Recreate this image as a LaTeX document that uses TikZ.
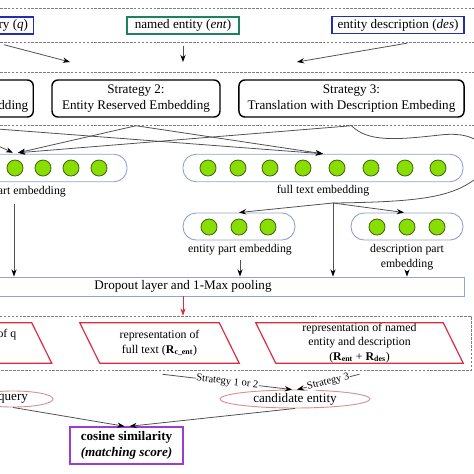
\documentclass[tikz,border=0pt]{standalone}
\usepackage{fontspec}
\setmainfont{Liberation Serif}
\usepackage{xcolor}
\usetikzlibrary{arrows.meta}
\usetikzlibrary{calc,shapes.geometric}
\definecolor{qblue}{RGB}{35,45,175}
\definecolor{entgreen}{RGB}{30,130,95}
\definecolor{embline}{RGB}{150,162,210}
\definecolor{dotgreen}{RGB}{135,222,0}
\definecolor{dotedge}{RGB}{65,95,10}
\definecolor{repred}{RGB}{215,45,65}
\definecolor{ellpink}{RGB}{215,145,150}
\definecolor{cospurple}{RGB}{155,60,210}
\definecolor{linegray}{RGB}{80,80,80}
\definecolor{dashgray}{RGB}{125,125,125}

\begin{document}
\begin{tikzpicture}[x=0.762pt,y=-0.762pt,
  inbox/.style={draw,line width=1pt,minimum height=13pt,inner xsep=4pt,inner ysep=1pt},
  stratbox/.style={draw,rounded corners=4.5pt,line width=1.1pt,minimum height=28.2pt,align=center,inner sep=1pt},
  embbox/.style={draw=embline,rounded corners=10pt,line width=0.7pt,minimum height=21pt},
  dot/.style={circle,draw=dotedge,fill=dotgreen,line width=0.6pt,minimum size=12.2pt,inner sep=0pt},
  emblabel/.style={font=\small,align=center,inner sep=1pt},
  arr/.style={draw=linegray,line width=0.6pt,-{Stealth[length=5.5pt,width=4pt,color=black]}},
  sepline/.style={draw=dashgray,dash pattern=on 2pt off 1pt,line width=0.5pt},
  reptext/.style={font=\small,align=center,minimum height=30.5pt,inner sep=0pt},
  rep/.style={draw=repred,line width=0.9pt},
  ell/.style={ellipse,draw=ellpink,line width=0.7pt,inner sep=0pt},
  slab/.style={sloped,fill=white,inner sep=0.5pt,font=\footnotesize}]
\fill [white] (0,0) rectangle (474,474);
\useasboundingbox (0,0) rectangle (474,474);
\clip (0,0) rectangle (474,474);
\draw [sepline] (0,8) -- (474,8);
\draw [sepline] (0,42) -- (474,42);
\draw [sepline] (0,72) -- (474,72);
\draw [sepline] (0,125) -- (474,125);
\node [inbox,draw=qblue,anchor=east] (v1) at (34,25.5) {query (\textit{q})};
\node [inbox,draw=entgreen,minimum width=85.3pt] (v2) at (183,25.5) {named entity (\textit{ent})};
\node [inbox,draw=qblue,minimum width=100.6pt] (v3) at (398,25) {entity description (\textit{des})};
\node [stratbox,anchor=east,minimum width=120.4pt] (v4) at (34,98.5) {Strategy 1:\\Entity Replaced Embedding};
\node [stratbox,minimum width=128pt] (v5) at (136,98.5) {Strategy 2:\\Entity Reserved Embedding};
\node [stratbox,minimum width=171.5pt] (v6) at (351.5,98.5) {Strategy 3:\\Translation with Description Embeding};
\coordinate (v7) at ($(v4.south)+(0,8)$);
\coordinate (v8) at ($(v5.south)+(0,8)$);
\coordinate (v9) at ($(v6.south)+(0,8)$);
\node [embbox,minimum width=172.2pt] (v10) at (14,168) {};
\node [embbox,minimum width=213.4pt] (v11) at (323,168) {};
\node [embbox,minimum width=85.3pt,minimum height=20.6pt] (v12) at (239,226.5) {};
\node [embbox,minimum width=85.3pt,minimum height=20.6pt] (v13) at (407,226.5) {};
\node [dot] (v33) at (15,168) {};
\node [dot] (v34) at (43,168) {};
\node [dot] (v35) at (71,168) {};
\node [dot] (v36) at (99,168) {};
\node [dot] (v37) at (208,168) {};
\node [dot] (v38) at (238,168) {};
\node [dot] (v39) at (270,168) {};
\node [dot] (v40) at (303,168) {};
\node [dot] (v41) at (337,168) {};
\node [dot] (v42) at (371,168) {};
\node [dot] (v43) at (405,168) {};
\node [dot] (v44) at (438,168) {};
\node [dot] (v45) at (209,227) {};
\node [dot] (v46) at (239,227) {};
\node [dot] (v47) at (268,227) {};
\node [dot] (v48) at (377,227) {};
\node [dot] (v49) at (407,227) {};
\node [dot] (v50) at (437,227) {};
\node [emblabel] (v14) at (14,192) {query part embedding};
\node [emblabel] (v15) at (323,191) {full text embedding};
\node [emblabel] (v16) at (240,250) {entity part embedding};
\node [emblabel] (v17) at (407,257) {description part\\embedding};
\coordinate (v18) at (333,203);
\node [draw=embline,line width=0.7pt,minimum width=428.2pt,minimum height=14.5pt,inner sep=0pt] (v19) at (183,286.5) {Dropout layer and 1-Max pooling};
\node [draw=dashgray,dash pattern=on 2pt off 1pt,line width=0.6pt,minimum width=438.9pt,minimum height=41.1pt,inner sep=0pt] (v20) at (183,343) {};
\node [reptext,minimum width=105.9pt] (v21) at (-28,343) {representation of q\\\strut};
\node [reptext,minimum width=105.9pt] (v22) at (159.5,343) {representation of\\full text (\textbf{R}\textsubscript{\textbf{c\_ent}})};
\node [reptext,minimum width=142.5pt] (v23) at (359.5,343) {representation of named\\entity and description\\(\textbf{R}\textsubscript{\textbf{ent}} + \textbf{R}\textsubscript{\textbf{des}})};
\draw [rep] ($(v21.north west)+(-10,0)$) -- ($(v21.north east)+(-10,0)$) -- ($(v21.south east)+(10,0)$) -- ($(v21.south west)+(10,0)$) -- cycle;
\draw [rep] ($(v22.north west)+(-10,0)$) -- ($(v22.north east)+(-10,0)$) -- ($(v22.south east)+(10,0)$) -- ($(v22.south west)+(10,0)$) -- cycle;
\draw [rep] ($(v23.north west)+(-10,0)$) -- ($(v23.north east)+(-10,0)$) -- ($(v23.south east)+(10,0)$) -- ($(v23.south west)+(10,0)$) -- cycle;
\node [ell,minimum width=61pt,minimum height=12.2pt] (v24) at (13,399) {query};
\node [ell,minimum width=114.3pt,minimum height=13.7pt] (v25) at (295,399) {candidate entity};
\node [draw=cospurple,line width=1.1pt,minimum width=86.1pt,minimum height=28.2pt,align=center,inner sep=1pt] (v26) at (126.5,445.5) {\textbf{cosine similarity}\\\textbf{\textit{(matching score)}}};
\coordinate (v27) at (70,62);
\coordinate (v28) at (183,62);
\coordinate (v29) at (297,62);
\coordinate (v30) at ($(v10.north)+(-1,-1)$);
\coordinate (v31) at ($(v10.north)+(4,-1)$);
\draw [arr] ($(v1.south)+(0,10)$) -- (v27);
\draw [arr] ($(v2.south)+(0,11)$) -- (v28);
\draw [arr] ($(v3.south)+(9,9)$) -- (v29);
\draw [arr] (v7) -- (v30);
\draw [arr] (v7) -- (v11.north);
\draw [arr] (v8) -- (v31);
\draw [arr] (v8) -- (v11.north);
\draw [arr] (v9) -- (v31);
\draw [draw=linegray,line width=0.6pt] (v9) .. controls (368,142) and (395,140) .. (440,135) .. controls (490,129) and (498,163) .. (474,180) .. controls (450,197) and (420,202) .. (v18);
\draw [arr] (v18) -- (v12.north);
\draw [arr] (v18) -- ($(v13.north)+(-3,0)$);
\draw [arr] (v18) -- (v18 |- v19.north);
\draw [arr,shorten <=4pt] (v14.south) -- (v14.south |- v19.north);
\draw [arr,shorten <=2pt] (v16.south) -- (v16.south |- v19.north);
\draw [arr] (v17.south) -- (v17.south |- v19.north);
\draw [draw=repred,line width=0.7pt,-{Stealth[length=5.5pt,width=4pt]}] (v19.south) -- (v20.north);
\draw [arr] ($(v22.south)+(3,11)$) -- node [slab] (v51) {Strategy 1 or 2} ($(v25.north)+(-3,0)$);
\draw [arr] ($(v23.south)+(0,11)$) -- node [slab] (v52) {Strategy 3} ($(v25.north)+(2,0)$);
\draw [arr] (v24.south) -- ($(v26.north)+(-2,0)$);
\draw [arr] (v25.south) -- ($(v26.north)+(3,0)$);
\end{tikzpicture}
\end{document}
